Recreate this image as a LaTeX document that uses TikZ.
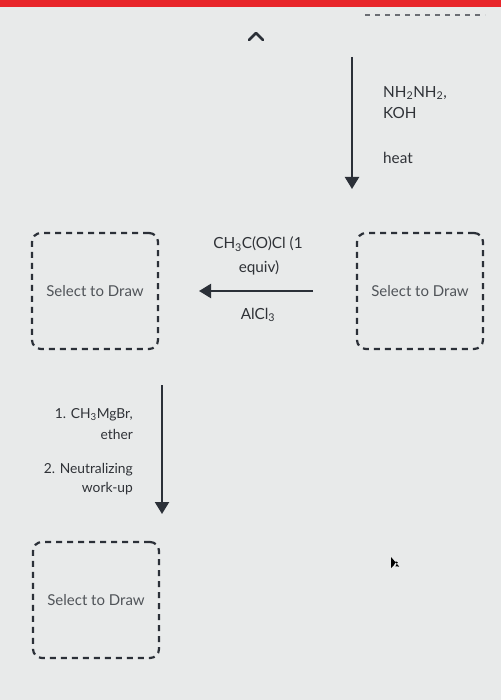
\documentclass[tikz,border=0pt]{standalone}
\usepackage{fontspec}
\setmainfont{Lato}
\usetikzlibrary{arrows.meta}
\definecolor{bg}{HTML}{E8EAEA}
\definecolor{ink}{HTML}{2B3038}
\definecolor{txt}{HTML}{2F3237}
\definecolor{sel}{HTML}{505459}
\definecolor{topred}{HTML}{E8262A}
\tikzset{
  drawbox/.style={draw=ink, line width=2.2pt, dash pattern=on 6pt off 5pt, rounded corners=9pt, minimum width=126pt, minimum height=116pt, text=sel, font=\fontsize{15}{17}\selectfont, inner sep=0pt},
  rxn/.style={draw=ink, line width=2.2pt, -{Triangle[width=14pt,length=12pt]}},
  lab/.style={text=txt, font=\fontsize{15.3}{18}\selectfont, inner sep=0pt},
  labl/.style={text=txt, font=\fontsize{13.8}{16}\selectfont, inner sep=0pt, anchor=east},
}
\begin{document}
\begin{tikzpicture}[x=1pt,y=1pt]
\fill[bg] (0,0) rectangle (501,-700);
\useasboundingbox (0,0) rectangle (501,-700);
\fill[topred] (0,0) rectangle (501,-7);
% partial dashed edge top right
\coordinate (tl) at (365,-15);
\coordinate (tr) at (485,-15);
\draw[ink!70, line width=1.5pt, dash pattern=on 5pt off 5pt] (tl) -- (tr);
% chevron
\coordinate (cv1) at (249,-40);
\coordinate (cv2) at (256,-33);
\coordinate (cv3) at (263,-40);
\draw[ink, line width=2.6pt, line cap=round, line join=round] (cv1) -- (cv2) -- (cv3);
% boxes
\node[drawbox] (R) at (420,-291) {Select to Draw};
\node[drawbox] (L) at (95,-291) {Select to Draw};
\node[drawbox] (B) at (96,-600) {Select to Draw};
% top right arrow
\coordinate (a1s) at (352,-57);
\coordinate (a1e) at (352,-189);
\draw[rxn] (a1s) -- (a1e);
\node[lab, anchor=west] (n1) at (383,-93) {NH\textsubscript{2}NH\textsubscript{2},};
\node[lab, anchor=west] (n2) at (383,-113) {KOH};
\node[lab, anchor=west] (n3) at (383,-158) {heat};
% horizontal arrow
\coordinate (a2s) at (313,-291);
\coordinate (a2e) at (199,-291);
\draw[rxn] (a2s) -- (a2e);
\node[lab] (h1) at (258,-244) {CH\textsubscript{3}C(O)Cl (1};
\node[lab] (h2) at (259,-268) {equiv)};
\node[lab] (h3) at (258,-315) {AlCl\textsubscript{3}};
% left down arrow
\coordinate (a3s) at (162,-385);
\coordinate (a3e) at (162,-514);
\draw[rxn] (a3s) -- (a3e);
\node[labl] (v1) at (133,-415) {1. CH\textsubscript{3}MgBr,};
\node[labl] (v2) at (133,-434) {ether};
\node[labl] (v3) at (133,-470) {2. Neutralizing};
\node[labl] (v4) at (133,-489) {work-up};
% cursor
\coordinate (c0) at (391,-557);
\fill[black] (c0) -- ++(0,-11) -- ++(2.6,2.4) -- ++(2.4,4.2) -- ++(1.8,-0.9) -- ++(-2.4,-4) -- ++(3.8,-0.3) -- cycle;
\end{tikzpicture}
\end{document}
